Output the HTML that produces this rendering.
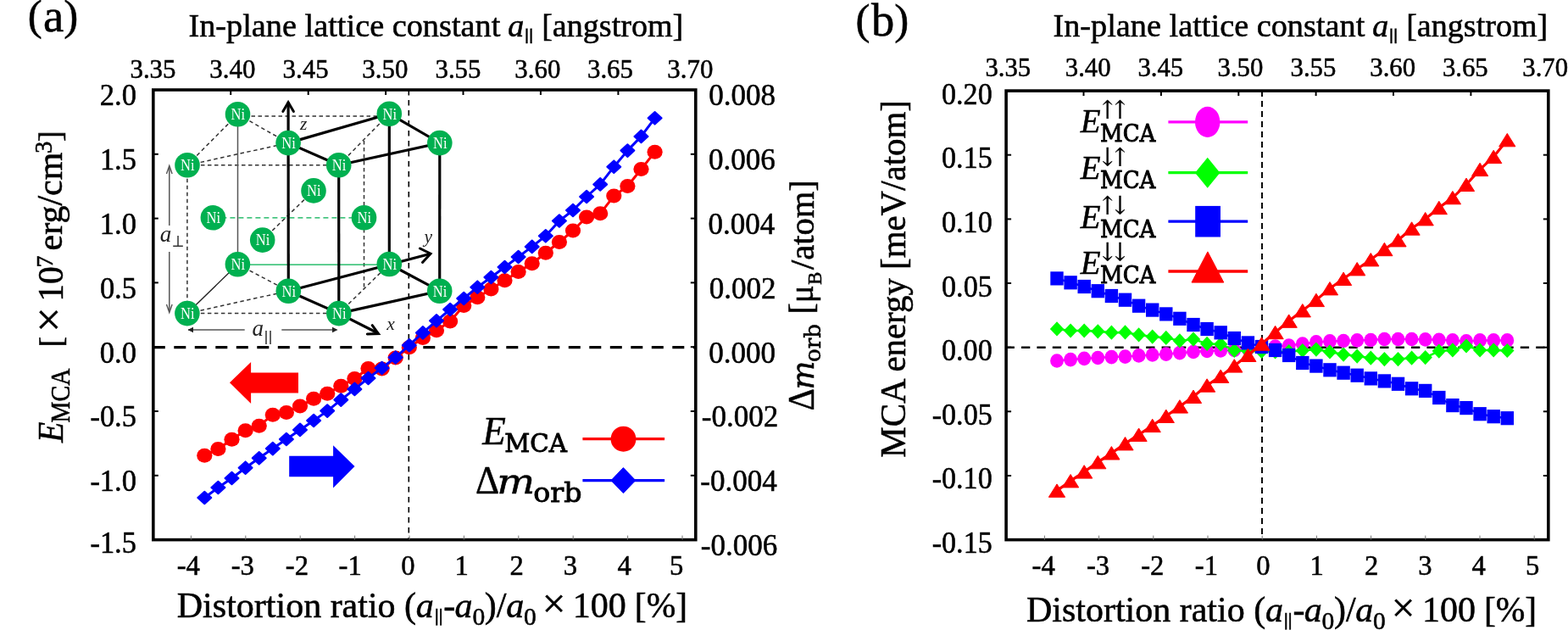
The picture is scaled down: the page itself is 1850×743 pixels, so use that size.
<!DOCTYPE html>
<html><head><meta charset="utf-8"><style>html,body{margin:0;padding:0;background:#fff;overflow:hidden}svg{display:block;}</style></head>
<body>
<svg width="1850" height="743" viewBox="0 0 1850 743" font-family="Liberation Serif, serif">
<rect width="1850" height="743" fill="#fff"/>
<line x1="180.8" y1="409.6" x2="820.8" y2="409.6" stroke="#000" stroke-width="3.4" stroke-dasharray="14 10.5"/>
<line x1="482.3" y1="106.0" x2="482.3" y2="636.6" stroke="#000" stroke-width="1.6" stroke-dasharray="6.5 5.5"/>
<line x1="280.5" y1="137" x2="459.3" y2="137" stroke="#333" stroke-width="1.5" stroke-dasharray="4.5 3.5"/>
<line x1="280.5" y1="134.8" x2="221.0" y2="194.8" stroke="#333" stroke-width="1.5" stroke-dasharray="4.5 3.5"/>
<line x1="280.5" y1="134.8" x2="340.1" y2="168.6" stroke="#333" stroke-width="1.5" stroke-dasharray="4.5 3.5"/>
<line x1="221.0" y1="194.8" x2="340.1" y2="168.6" stroke="#333" stroke-width="1.5" stroke-dasharray="4.5 3.5"/>
<line x1="221.0" y1="194.8" x2="399.7" y2="194.8" stroke="#333" stroke-width="1.5" stroke-dasharray="4.5 3.5"/>
<line x1="399.7" y1="194.8" x2="459.3" y2="134.2" stroke="#333" stroke-width="1.5" stroke-dasharray="4.5 3.5"/>
<line x1="220.9" y1="369.6" x2="399.8" y2="369.6" stroke="#333" stroke-width="1.5" stroke-dasharray="4.5 3.5"/>
<line x1="220.9" y1="369.6" x2="340.3" y2="343.2" stroke="#333" stroke-width="1.5" stroke-dasharray="4.5 3.5"/>
<line x1="280.4" y1="311.7" x2="340.3" y2="343.2" stroke="#333" stroke-width="1.5" stroke-dasharray="4.5 3.5"/>
<line x1="399.8" y1="369.6" x2="459.3" y2="311.5" stroke="#333" stroke-width="1.5" stroke-dasharray="4.5 3.5"/>
<line x1="309.7" y1="283.1" x2="370.0" y2="224.9" stroke="#333" stroke-width="1.5" stroke-dasharray="4.5 3.5"/>
<line x1="220.9" y1="194.8" x2="220.9" y2="369.6" stroke="#333" stroke-width="1.5" stroke-dasharray="4.5 3.5"/>
<line x1="429.5" y1="166" x2="429.5" y2="342" stroke="#333" stroke-width="1.5" stroke-dasharray="4.5 3.5"/>
<line x1="280.5" y1="134.7" x2="280.5" y2="311.7" stroke="#555" stroke-width="1.5"/>
<line x1="220.9" y1="369.6" x2="280.4" y2="311.7" stroke="#222" stroke-width="1.4"/>
<line x1="251.4" y1="256.8" x2="429.5" y2="256.8" stroke="#00b050" stroke-width="1.3" stroke-dasharray="6 4"/>
<line x1="280.4" y1="312.2" x2="459.3" y2="312.2" stroke="#00b050" stroke-width="1.3"/>
<line x1="340.1" y1="168.6" x2="459.3" y2="134.2" stroke="#000" stroke-width="3.2"/>
<line x1="459.3" y1="134.2" x2="518.8" y2="168.6" stroke="#000" stroke-width="3.2"/>
<line x1="518.8" y1="168.6" x2="399.7" y2="194.8" stroke="#000" stroke-width="3.2"/>
<line x1="399.7" y1="194.8" x2="340.1" y2="168.6" stroke="#000" stroke-width="3.2"/>
<line x1="340.3" y1="343.2" x2="399.8" y2="369.6" stroke="#000" stroke-width="3.2"/>
<line x1="399.8" y1="369.6" x2="518.7" y2="343.2" stroke="#000" stroke-width="3.2"/>
<line x1="518.7" y1="343.2" x2="459.3" y2="311.5" stroke="#000" stroke-width="3.2"/>
<line x1="340.1" y1="168.6" x2="340.3" y2="343.2" stroke="#000" stroke-width="3.2"/>
<line x1="399.7" y1="194.8" x2="399.8" y2="369.6" stroke="#000" stroke-width="3.2"/>
<line x1="459.3" y1="134.2" x2="459.3" y2="311.5" stroke="#000" stroke-width="3.2"/>
<line x1="518.8" y1="168.6" x2="518.7" y2="343.2" stroke="#000" stroke-width="3.2"/>
<line x1="340.1" y1="168.6" x2="340.1" y2="120.5" stroke="#000" stroke-width="3.2"/>
<path d="M333.8,131.5 L340.1,120.8 L346.4,131.5" fill="none" stroke="#000" stroke-width="3" stroke-linecap="round"/>
<line x1="340.3" y1="343.2" x2="507" y2="299.5" stroke="#000" stroke-width="3.2"/>
<path d="M495.5,293 L508,299.2 L498.5,309.5" fill="none" stroke="#000" stroke-width="3" stroke-linecap="round"/>
<line x1="399.8" y1="369.6" x2="445" y2="392.5" stroke="#000" stroke-width="3.2"/>
<path d="M433.3,394 L446.5,393.6 L439.2,383.6" fill="none" stroke="#000" stroke-width="3" stroke-linecap="round"/>
<line x1="199.8" y1="198" x2="199.8" y2="366" stroke="#555" stroke-width="1.5"/>
<path d="M196.5,205 L199.8,195.5 L203.1,205" fill="none" stroke="#555" stroke-width="1.4"/>
<path d="M196.5,359 L199.8,368.5 L203.1,359" fill="none" stroke="#555" stroke-width="1.4"/>
<rect x="188" y="266" width="28" height="31" fill="#fff"/>
<line x1="222" y1="389" x2="396" y2="389" stroke="#555" stroke-width="1.7"/>
<path d="M221.5,389 L228,385.8 L228,392.2 Z" fill="#222"/>
<path d="M398.6,389 L392,385.8 L392,392.2 Z" fill="#222"/>
<rect x="288.7" y="378" width="43.6" height="22" fill="#fff"/>
<circle cx="280.5" cy="134.8" r="14.8" fill="#00b050"/>
<text transform="translate(280.9,141.1) scale(0.9,1)" font-size="18.4" fill="#fff" text-anchor="middle">Ni</text>
<circle cx="459.3" cy="134.2" r="14.8" fill="#00b050"/>
<text transform="translate(459.7,140.5) scale(0.9,1)" font-size="18.4" fill="#fff" text-anchor="middle">Ni</text>
<circle cx="221.0" cy="194.8" r="14.8" fill="#00b050"/>
<text transform="translate(221.4,201.1) scale(0.9,1)" font-size="18.4" fill="#fff" text-anchor="middle">Ni</text>
<circle cx="399.7" cy="194.8" r="14.8" fill="#00b050"/>
<text transform="translate(400.1,201.1) scale(0.9,1)" font-size="18.4" fill="#fff" text-anchor="middle">Ni</text>
<circle cx="280.4" cy="311.7" r="14.8" fill="#00b050"/>
<text transform="translate(280.8,318.0) scale(0.9,1)" font-size="18.4" fill="#fff" text-anchor="middle">Ni</text>
<circle cx="459.3" cy="311.5" r="14.8" fill="#00b050"/>
<text transform="translate(459.7,317.8) scale(0.9,1)" font-size="18.4" fill="#fff" text-anchor="middle">Ni</text>
<circle cx="220.9" cy="369.6" r="14.8" fill="#00b050"/>
<text transform="translate(221.3,375.9) scale(0.9,1)" font-size="18.4" fill="#fff" text-anchor="middle">Ni</text>
<circle cx="399.8" cy="369.6" r="14.8" fill="#00b050"/>
<text transform="translate(400.2,375.9) scale(0.9,1)" font-size="18.4" fill="#fff" text-anchor="middle">Ni</text>
<circle cx="340.1" cy="168.6" r="14.8" fill="#00b050"/>
<text transform="translate(340.5,174.9) scale(0.9,1)" font-size="18.4" fill="#fff" text-anchor="middle">Ni</text>
<circle cx="518.8" cy="168.6" r="14.8" fill="#00b050"/>
<text transform="translate(519.2,174.9) scale(0.9,1)" font-size="18.4" fill="#fff" text-anchor="middle">Ni</text>
<circle cx="340.3" cy="343.2" r="14.8" fill="#00b050"/>
<text transform="translate(340.7,349.5) scale(0.9,1)" font-size="18.4" fill="#fff" text-anchor="middle">Ni</text>
<circle cx="518.7" cy="343.2" r="14.8" fill="#00b050"/>
<text transform="translate(519.1,349.5) scale(0.9,1)" font-size="18.4" fill="#fff" text-anchor="middle">Ni</text>
<circle cx="251.4" cy="256.8" r="14.8" fill="#00b050"/>
<text transform="translate(251.8,263.1) scale(0.9,1)" font-size="18.4" fill="#fff" text-anchor="middle">Ni</text>
<circle cx="429.5" cy="256.8" r="14.8" fill="#00b050"/>
<text transform="translate(429.9,263.1) scale(0.9,1)" font-size="18.4" fill="#fff" text-anchor="middle">Ni</text>
<circle cx="309.7" cy="283.1" r="14.8" fill="#00b050"/>
<text transform="translate(310.1,289.4) scale(0.9,1)" font-size="18.4" fill="#fff" text-anchor="middle">Ni</text>
<circle cx="370.0" cy="224.9" r="14.8" fill="#00b050"/>
<text transform="translate(370.4,231.2) scale(0.9,1)" font-size="18.4" fill="#fff" text-anchor="middle">Ni</text>
<text x="354" y="153" font-size="21.5" font-style="italic" fill="#222">z</text>
<text x="500.5" y="285.5" font-size="21.5" font-style="italic" fill="#222">y</text>
<text x="456.2" y="388.6" font-size="21.5" font-style="italic" fill="#222">x</text>
<text x="188.8" y="285" font-size="27" font-style="italic" fill="#222">a</text>
<text x="202.7" y="290.7" font-size="18.5" fill="#333" font-family="DejaVu Math TeX Gyre, serif">⊥</text>
<text x="297.6" y="395.8" font-size="27" font-style="italic" fill="#222">a</text>
<text transform="translate(310.6,403.2) scale(1.5,1)" font-size="19" fill="#555" font-family="DejaVu Math TeX Gyre, serif">∥</text>
<path d="M271,451.3 L296.1,426.9 L296.1,439.4 L352,439.4 L352,463.5 L296.1,463.5 L296.1,476 Z" fill="#f00"/>
<path d="M341.2,537.8 L393.1,537.8 L393.1,525.2 L418.5,549.9 L393.1,575.5 L393.1,562.3 L341.2,562.3 Z" fill="#00f"/>
<polyline points="241.3,537.2 257.4,529.4 273.5,518.3 289.6,507.8 305.7,502.2 321.8,489.2 337.9,486.4 354.0,479.0 370.1,470.3 386.2,464.2 402.3,455.2 418.4,446.5 434.5,434.5 450.6,435.0 466.7,422.1 482.8,409.8 498.9,398.5 515.0,389.7 531.1,379.0 547.2,360.4 563.3,350.7 579.4,341.0 595.5,330.8 611.6,320.5 627.7,310.8 643.8,298.2 659.9,285.5 676.0,272.0 692.1,256.0 708.2,251.8 724.3,231.1 740.4,219.5 756.5,199.5 772.6,179.3" fill="none" stroke="#f00" stroke-width="3" stroke-linejoin="round"/>
<ellipse cx="241.3" cy="537.2" rx="9.1" ry="8.5" fill="#f00"/>
<ellipse cx="257.4" cy="529.4" rx="9.1" ry="8.5" fill="#f00"/>
<ellipse cx="273.5" cy="518.3" rx="9.1" ry="8.5" fill="#f00"/>
<ellipse cx="289.6" cy="507.8" rx="9.1" ry="8.5" fill="#f00"/>
<ellipse cx="305.7" cy="502.2" rx="9.1" ry="8.5" fill="#f00"/>
<ellipse cx="321.8" cy="489.2" rx="9.1" ry="8.5" fill="#f00"/>
<ellipse cx="337.9" cy="486.4" rx="9.1" ry="8.5" fill="#f00"/>
<ellipse cx="354.0" cy="479.0" rx="9.1" ry="8.5" fill="#f00"/>
<ellipse cx="370.1" cy="470.3" rx="9.1" ry="8.5" fill="#f00"/>
<ellipse cx="386.2" cy="464.2" rx="9.1" ry="8.5" fill="#f00"/>
<ellipse cx="402.3" cy="455.2" rx="9.1" ry="8.5" fill="#f00"/>
<ellipse cx="418.4" cy="446.5" rx="9.1" ry="8.5" fill="#f00"/>
<ellipse cx="434.5" cy="434.5" rx="9.1" ry="8.5" fill="#f00"/>
<ellipse cx="450.6" cy="435.0" rx="9.1" ry="8.5" fill="#f00"/>
<ellipse cx="466.7" cy="422.1" rx="9.1" ry="8.5" fill="#f00"/>
<ellipse cx="482.8" cy="409.8" rx="9.1" ry="8.5" fill="#f00"/>
<ellipse cx="498.9" cy="398.5" rx="9.1" ry="8.5" fill="#f00"/>
<ellipse cx="515.0" cy="389.7" rx="9.1" ry="8.5" fill="#f00"/>
<ellipse cx="531.1" cy="379.0" rx="9.1" ry="8.5" fill="#f00"/>
<ellipse cx="547.2" cy="360.4" rx="9.1" ry="8.5" fill="#f00"/>
<ellipse cx="563.3" cy="350.7" rx="9.1" ry="8.5" fill="#f00"/>
<ellipse cx="579.4" cy="341.0" rx="9.1" ry="8.5" fill="#f00"/>
<ellipse cx="595.5" cy="330.8" rx="9.1" ry="8.5" fill="#f00"/>
<ellipse cx="611.6" cy="320.5" rx="9.1" ry="8.5" fill="#f00"/>
<ellipse cx="627.7" cy="310.8" rx="9.1" ry="8.5" fill="#f00"/>
<ellipse cx="643.8" cy="298.2" rx="9.1" ry="8.5" fill="#f00"/>
<ellipse cx="659.9" cy="285.5" rx="9.1" ry="8.5" fill="#f00"/>
<ellipse cx="676.0" cy="272.0" rx="9.1" ry="8.5" fill="#f00"/>
<ellipse cx="692.1" cy="256.0" rx="9.1" ry="8.5" fill="#f00"/>
<ellipse cx="708.2" cy="251.8" rx="9.1" ry="8.5" fill="#f00"/>
<ellipse cx="724.3" cy="231.1" rx="9.1" ry="8.5" fill="#f00"/>
<ellipse cx="740.4" cy="219.5" rx="9.1" ry="8.5" fill="#f00"/>
<ellipse cx="756.5" cy="199.5" rx="9.1" ry="8.5" fill="#f00"/>
<ellipse cx="772.6" cy="179.3" rx="9.1" ry="8.5" fill="#f00"/>
<polyline points="241.3,587.0 257.4,575.0 273.5,564.0 289.6,551.7 305.7,540.3 321.8,529.1 337.9,518.0 354.0,506.9 370.1,496.0 386.2,484.6 402.3,471.6 418.4,458.9 434.5,446.0 450.6,434.0 466.7,421.5 482.8,407.2 498.9,392.4 515.0,378.3 531.1,365.0 547.2,352.0 563.3,338.7 579.4,327.0 595.5,315.0 611.6,303.0 627.7,290.9 643.8,278.3 659.9,260.5 676.0,248.0 692.1,232.0 708.2,217.4 724.3,196.7 740.4,177.6 756.5,160.9 772.6,139.3" fill="none" stroke="#00f" stroke-width="3" stroke-linejoin="round"/>
<path d="M233.3,587.0L241.3,579.7L249.3,587.0L241.3,594.3Z" fill="#00f" stroke="#00f" stroke-width="2" stroke-linejoin="round"/>
<path d="M249.4,575.0L257.4,567.7L265.4,575.0L257.4,582.3Z" fill="#00f" stroke="#00f" stroke-width="2" stroke-linejoin="round"/>
<path d="M265.5,564.0L273.5,556.7L281.5,564.0L273.5,571.3Z" fill="#00f" stroke="#00f" stroke-width="2" stroke-linejoin="round"/>
<path d="M281.6,551.7L289.6,544.4L297.6,551.7L289.6,559.0Z" fill="#00f" stroke="#00f" stroke-width="2" stroke-linejoin="round"/>
<path d="M297.7,540.3L305.7,533.0L313.7,540.3L305.7,547.6Z" fill="#00f" stroke="#00f" stroke-width="2" stroke-linejoin="round"/>
<path d="M313.8,529.1L321.8,521.8L329.8,529.1L321.8,536.4Z" fill="#00f" stroke="#00f" stroke-width="2" stroke-linejoin="round"/>
<path d="M329.9,518.0L337.9,510.7L345.9,518.0L337.9,525.3Z" fill="#00f" stroke="#00f" stroke-width="2" stroke-linejoin="round"/>
<path d="M346.0,506.9L354.0,499.6L362.0,506.9L354.0,514.2Z" fill="#00f" stroke="#00f" stroke-width="2" stroke-linejoin="round"/>
<path d="M362.1,496.0L370.1,488.7L378.1,496.0L370.1,503.3Z" fill="#00f" stroke="#00f" stroke-width="2" stroke-linejoin="round"/>
<path d="M378.2,484.6L386.2,477.3L394.2,484.6L386.2,491.9Z" fill="#00f" stroke="#00f" stroke-width="2" stroke-linejoin="round"/>
<path d="M394.3,471.6L402.3,464.3L410.3,471.6L402.3,478.9Z" fill="#00f" stroke="#00f" stroke-width="2" stroke-linejoin="round"/>
<path d="M410.4,458.9L418.4,451.6L426.4,458.9L418.4,466.2Z" fill="#00f" stroke="#00f" stroke-width="2" stroke-linejoin="round"/>
<path d="M426.5,446.0L434.5,438.7L442.5,446.0L434.5,453.3Z" fill="#00f" stroke="#00f" stroke-width="2" stroke-linejoin="round"/>
<path d="M442.6,434.0L450.6,426.7L458.6,434.0L450.6,441.3Z" fill="#00f" stroke="#00f" stroke-width="2" stroke-linejoin="round"/>
<path d="M458.7,421.5L466.7,414.2L474.7,421.5L466.7,428.8Z" fill="#00f" stroke="#00f" stroke-width="2" stroke-linejoin="round"/>
<path d="M474.8,407.2L482.8,399.9L490.8,407.2L482.8,414.5Z" fill="#00f" stroke="#00f" stroke-width="2" stroke-linejoin="round"/>
<path d="M490.9,392.4L498.9,385.1L506.9,392.4L498.9,399.7Z" fill="#00f" stroke="#00f" stroke-width="2" stroke-linejoin="round"/>
<path d="M507.0,378.3L515.0,371.0L523.0,378.3L515.0,385.6Z" fill="#00f" stroke="#00f" stroke-width="2" stroke-linejoin="round"/>
<path d="M523.1,365.0L531.1,357.7L539.1,365.0L531.1,372.3Z" fill="#00f" stroke="#00f" stroke-width="2" stroke-linejoin="round"/>
<path d="M539.2,352.0L547.2,344.7L555.2,352.0L547.2,359.3Z" fill="#00f" stroke="#00f" stroke-width="2" stroke-linejoin="round"/>
<path d="M555.3,338.7L563.3,331.4L571.3,338.7L563.3,346.0Z" fill="#00f" stroke="#00f" stroke-width="2" stroke-linejoin="round"/>
<path d="M571.4,327.0L579.4,319.7L587.4,327.0L579.4,334.3Z" fill="#00f" stroke="#00f" stroke-width="2" stroke-linejoin="round"/>
<path d="M587.5,315.0L595.5,307.7L603.5,315.0L595.5,322.3Z" fill="#00f" stroke="#00f" stroke-width="2" stroke-linejoin="round"/>
<path d="M603.6,303.0L611.6,295.7L619.6,303.0L611.6,310.3Z" fill="#00f" stroke="#00f" stroke-width="2" stroke-linejoin="round"/>
<path d="M619.7,290.9L627.7,283.6L635.7,290.9L627.7,298.2Z" fill="#00f" stroke="#00f" stroke-width="2" stroke-linejoin="round"/>
<path d="M635.8,278.3L643.8,271.0L651.8,278.3L643.8,285.6Z" fill="#00f" stroke="#00f" stroke-width="2" stroke-linejoin="round"/>
<path d="M651.9,260.5L659.9,253.2L667.9,260.5L659.9,267.8Z" fill="#00f" stroke="#00f" stroke-width="2" stroke-linejoin="round"/>
<path d="M668.0,248.0L676.0,240.7L684.0,248.0L676.0,255.3Z" fill="#00f" stroke="#00f" stroke-width="2" stroke-linejoin="round"/>
<path d="M684.1,232.0L692.1,224.7L700.1,232.0L692.1,239.3Z" fill="#00f" stroke="#00f" stroke-width="2" stroke-linejoin="round"/>
<path d="M700.2,217.4L708.2,210.1L716.2,217.4L708.2,224.7Z" fill="#00f" stroke="#00f" stroke-width="2" stroke-linejoin="round"/>
<path d="M716.3,196.7L724.3,189.4L732.3,196.7L724.3,204.0Z" fill="#00f" stroke="#00f" stroke-width="2" stroke-linejoin="round"/>
<path d="M732.4,177.6L740.4,170.3L748.4,177.6L740.4,184.9Z" fill="#00f" stroke="#00f" stroke-width="2" stroke-linejoin="round"/>
<path d="M748.5,160.9L756.5,153.6L764.5,160.9L756.5,168.2Z" fill="#00f" stroke="#00f" stroke-width="2" stroke-linejoin="round"/>
<path d="M764.6,139.3L772.6,132.0L780.6,139.3L772.6,146.6Z" fill="#00f" stroke="#00f" stroke-width="2" stroke-linejoin="round"/>
<line x1="687.4" y1="517.6" x2="784.1" y2="517.6" stroke="#f00" stroke-width="3.2"/>
<ellipse cx="735.5" cy="517.7" rx="14.9" ry="15.0" fill="#f00"/>
<line x1="687.4" y1="566.6" x2="784.1" y2="566.6" stroke="#00f" stroke-width="3.2"/>
<path d="M721.0,566.6L735.4,551.6L749.8,566.6L735.4,581.6Z" fill="#00f" stroke="#00f" stroke-width="1" stroke-linejoin="round"/>
<text transform="translate(569.13,523.70) scale(0.9700,1)" font-size="46.5" font-family="Liberation Serif, serif" font-style="italic" fill="#000" stroke="#000" stroke-width="0.55">E</text>
<text transform="translate(595.34,533.40)" font-size="29.3" font-family="DejaVu Serif, serif" fill="#000" stroke="#000" stroke-width="0.9">MCA</text>
<text transform="translate(560.94,582.40) scale(0.9500,1)" font-size="46" font-family="Liberation Serif, serif" fill="#000" stroke="#000" stroke-width="0.55">Δ</text>
<text transform="translate(586.29,582.40) scale(1.1700,1)" font-size="40.5" font-family="DejaVu Serif, serif" font-style="italic" fill="#000" stroke="#000" stroke-width="0.55">m</text>
<text transform="translate(629.24,592.00) scale(1.0400,1)" font-size="32" font-family="DejaVu Serif, serif" fill="#000" stroke="#000" stroke-width="0.9">orb</text>
<rect x="180.8" y="106.0" width="640.0" height="530.6" fill="none" stroke="#000" stroke-width="3.6"/>
<text transform="translate(153.45,91.90) scale(0.9500,1)" font-size="32.5" font-family="Liberation Serif, serif" fill="#000" stroke="#000" stroke-width="0.55">3.35</text>
<line x1="272.2" y1="106.0" x2="272.2" y2="112.0" stroke="#000" stroke-width="2"/>
<text transform="translate(247.33,91.90) scale(0.9500,1)" font-size="32.5" font-family="Liberation Serif, serif" fill="#000" stroke="#000" stroke-width="0.55">3.40</text>
<line x1="363.7" y1="106.0" x2="363.7" y2="112.0" stroke="#000" stroke-width="2"/>
<text transform="translate(333.55,91.90) scale(0.9500,1)" font-size="32.5" font-family="Liberation Serif, serif" fill="#000" stroke="#000" stroke-width="0.55">3.45</text>
<line x1="455.1" y1="106.0" x2="455.1" y2="112.0" stroke="#000" stroke-width="2"/>
<text transform="translate(427.33,91.90) scale(0.9500,1)" font-size="32.5" font-family="Liberation Serif, serif" fill="#000" stroke="#000" stroke-width="0.55">3.50</text>
<line x1="546.5" y1="106.0" x2="546.5" y2="112.0" stroke="#000" stroke-width="2"/>
<text transform="translate(513.45,91.90) scale(0.9500,1)" font-size="32.5" font-family="Liberation Serif, serif" fill="#000" stroke="#000" stroke-width="0.55">3.55</text>
<line x1="637.9" y1="106.0" x2="637.9" y2="112.0" stroke="#000" stroke-width="2"/>
<text transform="translate(607.33,91.90) scale(0.9500,1)" font-size="32.5" font-family="Liberation Serif, serif" fill="#000" stroke="#000" stroke-width="0.55">3.60</text>
<line x1="729.4" y1="106.0" x2="729.4" y2="112.0" stroke="#000" stroke-width="2"/>
<text transform="translate(692.95,91.90) scale(0.9500,1)" font-size="32.5" font-family="Liberation Serif, serif" fill="#000" stroke="#000" stroke-width="0.55">3.65</text>
<text transform="translate(787.33,91.90) scale(0.9500,1)" font-size="32.5" font-family="Liberation Serif, serif" fill="#000" stroke="#000" stroke-width="0.55">3.70</text>
<text transform="translate(117.87,124.30) scale(0.9700,1)" font-size="35.5" font-family="Liberation Serif, serif" fill="#000" stroke="#000" stroke-width="0.55">2.0</text>
<text transform="translate(836.19,124.30) scale(0.9600,1)" font-size="36.5" font-family="Liberation Serif, serif" fill="#000" stroke="#000" stroke-width="0.55">0.008</text>
<line x1="180.8" y1="181.8" x2="186.8" y2="181.8" stroke="#000" stroke-width="2"/>
<line x1="814.8" y1="181.8" x2="820.8" y2="181.8" stroke="#000" stroke-width="2"/>
<text transform="translate(117.90,200.10) scale(0.9700,1)" font-size="35.5" font-family="Liberation Serif, serif" fill="#000" stroke="#000" stroke-width="0.55">1.5</text>
<text transform="translate(835.90,200.10) scale(0.9600,1)" font-size="36.5" font-family="Liberation Serif, serif" fill="#000" stroke="#000" stroke-width="0.55">0.006</text>
<line x1="180.8" y1="257.6" x2="186.8" y2="257.6" stroke="#000" stroke-width="2"/>
<line x1="814.8" y1="257.6" x2="820.8" y2="257.6" stroke="#000" stroke-width="2"/>
<text transform="translate(117.87,275.90) scale(0.9700,1)" font-size="35.5" font-family="Liberation Serif, serif" fill="#000" stroke="#000" stroke-width="0.55">1.0</text>
<text transform="translate(835.41,275.90) scale(0.9600,1)" font-size="36.5" font-family="Liberation Serif, serif" fill="#000" stroke="#000" stroke-width="0.55">0.004</text>
<line x1="180.8" y1="333.4" x2="186.8" y2="333.4" stroke="#000" stroke-width="2"/>
<line x1="814.8" y1="333.4" x2="820.8" y2="333.4" stroke="#000" stroke-width="2"/>
<text transform="translate(117.90,351.70) scale(0.9700,1)" font-size="35.5" font-family="Liberation Serif, serif" fill="#000" stroke="#000" stroke-width="0.55">0.5</text>
<text transform="translate(836.79,351.70) scale(0.9600,1)" font-size="36.5" font-family="Liberation Serif, serif" fill="#000" stroke="#000" stroke-width="0.55">0.002</text>
<line x1="180.8" y1="409.2" x2="186.8" y2="409.2" stroke="#000" stroke-width="2"/>
<line x1="814.8" y1="409.2" x2="820.8" y2="409.2" stroke="#000" stroke-width="2"/>
<text transform="translate(117.87,427.50) scale(0.9700,1)" font-size="35.5" font-family="Liberation Serif, serif" fill="#000" stroke="#000" stroke-width="0.55">0.0</text>
<text transform="translate(836.19,427.50) scale(0.9600,1)" font-size="36.5" font-family="Liberation Serif, serif" fill="#000" stroke="#000" stroke-width="0.55">0.000</text>
<line x1="180.8" y1="485.0" x2="186.8" y2="485.0" stroke="#000" stroke-width="2"/>
<line x1="814.8" y1="485.0" x2="820.8" y2="485.0" stroke="#000" stroke-width="2"/>
<text transform="translate(106.43,503.30) scale(0.9700,1)" font-size="35.5" font-family="Liberation Serif, serif" fill="#000" stroke="#000" stroke-width="0.55">-0.5</text>
<text transform="translate(827.72,503.30) scale(0.9600,1)" font-size="36.5" font-family="Liberation Serif, serif" fill="#000" stroke="#000" stroke-width="0.55">-0.002</text>
<line x1="180.8" y1="560.8" x2="186.8" y2="560.8" stroke="#000" stroke-width="2"/>
<line x1="814.8" y1="560.8" x2="820.8" y2="560.8" stroke="#000" stroke-width="2"/>
<text transform="translate(106.40,579.10) scale(0.9700,1)" font-size="35.5" font-family="Liberation Serif, serif" fill="#000" stroke="#000" stroke-width="0.55">-1.0</text>
<text transform="translate(826.34,579.10) scale(0.9600,1)" font-size="36.5" font-family="Liberation Serif, serif" fill="#000" stroke="#000" stroke-width="0.55">-0.004</text>
<text transform="translate(106.43,652.20) scale(0.9700,1)" font-size="35.5" font-family="Liberation Serif, serif" fill="#000" stroke="#000" stroke-width="0.55">-1.5</text>
<text transform="translate(826.84,654.90) scale(0.9600,1)" font-size="36.5" font-family="Liberation Serif, serif" fill="#000" stroke="#000" stroke-width="0.55">-0.006</text>
<line x1="225.4" y1="631.6" x2="225.4" y2="636.6" stroke="#777" stroke-width="1"/>
<text transform="translate(208.65,678.40) scale(0.9600,1)" font-size="34" font-family="Liberation Serif, serif" fill="#000" stroke="#000" stroke-width="0.55">-4</text>
<line x1="289.8" y1="631.6" x2="289.8" y2="636.6" stroke="#777" stroke-width="1"/>
<text transform="translate(272.74,678.40) scale(0.9600,1)" font-size="34" font-family="Liberation Serif, serif" fill="#000" stroke="#000" stroke-width="0.55">-3</text>
<line x1="354.2" y1="631.6" x2="354.2" y2="636.6" stroke="#777" stroke-width="1"/>
<text transform="translate(336.80,678.40) scale(0.9600,1)" font-size="34" font-family="Liberation Serif, serif" fill="#000" stroke="#000" stroke-width="0.55">-2</text>
<line x1="418.6" y1="631.6" x2="418.6" y2="636.6" stroke="#777" stroke-width="1"/>
<text transform="translate(399.58,678.40) scale(0.9600,1)" font-size="34" font-family="Liberation Serif, serif" fill="#000" stroke="#000" stroke-width="0.55">-1</text>
<line x1="483.0" y1="631.6" x2="483.0" y2="636.6" stroke="#777" stroke-width="1"/>
<text transform="translate(473.14,678.40) scale(0.9600,1)" font-size="34" font-family="Liberation Serif, serif" fill="#000" stroke="#000" stroke-width="0.55">0</text>
<line x1="547.4" y1="631.6" x2="547.4" y2="636.6" stroke="#777" stroke-width="1"/>
<text transform="translate(536.59,678.40) scale(0.9600,1)" font-size="34" font-family="Liberation Serif, serif" fill="#000" stroke="#000" stroke-width="0.55">1</text>
<line x1="611.8" y1="631.6" x2="611.8" y2="636.6" stroke="#777" stroke-width="1"/>
<text transform="translate(601.42,678.40) scale(0.9600,1)" font-size="34" font-family="Liberation Serif, serif" fill="#000" stroke="#000" stroke-width="0.55">2</text>
<line x1="676.2" y1="631.6" x2="676.2" y2="636.6" stroke="#777" stroke-width="1"/>
<text transform="translate(664.70,678.40) scale(0.9600,1)" font-size="34" font-family="Liberation Serif, serif" fill="#000" stroke="#000" stroke-width="0.55">3</text>
<line x1="740.6" y1="631.6" x2="740.6" y2="636.6" stroke="#777" stroke-width="1"/>
<text transform="translate(728.38,678.40) scale(0.9600,1)" font-size="34" font-family="Liberation Serif, serif" fill="#000" stroke="#000" stroke-width="0.55">4</text>
<line x1="805.0" y1="631.6" x2="805.0" y2="636.6" stroke="#777" stroke-width="1"/>
<text transform="translate(790.03,678.40) scale(0.9600,1)" font-size="34" font-family="Liberation Serif, serif" fill="#000" stroke="#000" stroke-width="0.55">5</text>
<text transform="translate(222.42,43.00)" font-size="38.3" font-family="Liberation Serif, serif" fill="#000" stroke="#000" stroke-width="0.55">In-plane lattice constant</text>
<text transform="translate(599.27,43.00)" font-size="38" font-family="Liberation Serif, serif" font-style="italic" fill="#000" stroke="#000" stroke-width="0.55">a</text>
<text transform="translate(618.47,48.40) scale(1.3000,1)" font-size="20.5" font-family="DejaVu Math TeX Gyre, serif" fill="#000" stroke="#000" stroke-width="0.3">∥</text>
<text transform="translate(639.17,43.00)" font-size="38.1" font-family="Liberation Serif, serif" fill="#000" stroke="#000" stroke-width="0.55">[angstrom]</text>
<text transform="translate(208.79,727.60)" font-size="42" font-family="Liberation Serif, serif" fill="#000" stroke="#000" stroke-width="0.55">Distortion ratio (</text>
<text transform="translate(490.85,727.60)" font-size="42" font-family="Liberation Serif, serif" font-style="italic" fill="#000" stroke="#000" stroke-width="0.55">a</text>
<text transform="translate(512.27,734.00) scale(1.1500,1)" font-size="23.1" font-family="DejaVu Math TeX Gyre, serif" fill="#000" stroke="#000" stroke-width="0.3">∥</text>
<text transform="translate(523.34,727.60)" font-size="42" font-family="Liberation Serif, serif" fill="#000" stroke="#000" stroke-width="0.55">-</text>
<text transform="translate(536.55,727.60)" font-size="42" font-family="Liberation Serif, serif" font-style="italic" fill="#000" stroke="#000" stroke-width="0.55">a</text>
<text transform="translate(557.38,737.10)" font-size="29.5" font-family="Liberation Serif, serif" fill="#000" stroke="#000" stroke-width="0.55">0</text>
<text transform="translate(571.85,727.60)" font-size="42" font-family="Liberation Serif, serif" fill="#000" stroke="#000" stroke-width="0.55">)/</text>
<text transform="translate(597.15,727.60)" font-size="42" font-family="Liberation Serif, serif" font-style="italic" fill="#000" stroke="#000" stroke-width="0.55">a</text>
<text transform="translate(617.98,737.10)" font-size="29.5" font-family="Liberation Serif, serif" fill="#000" stroke="#000" stroke-width="0.55">0</text>
<text transform="translate(639.72,728.00)" font-size="49" font-family="Liberation Serif, serif" fill="#000" stroke="#000" stroke-width="0.55">×</text>
<text transform="translate(675.81,727.60)" font-size="42" font-family="Liberation Serif, serif" fill="#000" stroke="#000" stroke-width="0.55">100</text>
<text transform="translate(748.82,727.60)" font-size="41.5" font-family="Liberation Serif, serif" fill="#000" stroke="#000" stroke-width="0.55">[%]</text>
<text transform="translate(32.76,35.00)" font-size="51" font-family="Liberation Serif, serif" fill="#000" stroke="#000" stroke-width="0.55">(</text>
<text transform="translate(50.88,37.00)" font-size="54.7" font-family="Liberation Serif, serif" fill="#000" stroke="#000" stroke-width="0.55">a</text>
<text transform="translate(75.16,35.00)" font-size="51" font-family="Liberation Serif, serif" fill="#000" stroke="#000" stroke-width="0.55">)</text>
<text transform="translate(73.80,522.03) rotate(-90) scale(0.9300,1)" font-size="43" font-family="Liberation Serif, serif" font-style="italic" fill="#000" stroke="#000" stroke-width="0.55">E</text>
<text transform="translate(82.20,498.51) rotate(-90) scale(0.9200,1)" font-size="30.5" font-family="Liberation Serif, serif" fill="#000" stroke="#000" stroke-width="0.55">MCA</text>
<text transform="translate(72.70,409.54) rotate(-90)" font-size="38.2" font-family="Liberation Serif, serif" fill="#000" stroke="#000" stroke-width="0.55">[</text>
<text transform="translate(74.8,377) rotate(-90)" font-size="52" text-anchor="middle" stroke="#000" stroke-width="0.55">×</text>
<text transform="translate(73.70,355.76) rotate(-90) scale(0.9800,1)" font-size="42.5" font-family="Liberation Serif, serif" fill="#000" stroke="#000" stroke-width="0.55">10</text>
<text transform="translate(61.50,315.45) rotate(-90)" font-size="28" font-family="Liberation Serif, serif" fill="#000" stroke="#000" stroke-width="0.55">7</text>
<text transform="translate(73.40,295.44) rotate(-90)" font-size="42" font-family="Liberation Serif, serif" fill="#000" stroke="#000" stroke-width="0.55">erg/cm</text>
<text transform="translate(61.20,180.96) rotate(-90)" font-size="28.5" font-family="Liberation Serif, serif" fill="#000" stroke="#000" stroke-width="0.55">3</text>
<text transform="translate(71.80,166.88) rotate(-90)" font-size="38.2" font-family="Liberation Serif, serif" fill="#000" stroke="#000" stroke-width="0.55">]</text>
<text transform="translate(959.80,484.24) rotate(-90) scale(0.9300,1)" font-size="43.5" font-family="Liberation Serif, serif" fill="#000" stroke="#000" stroke-width="0.55">Δ</text>
<text transform="translate(959.80,459.40) rotate(-90) scale(0.9800,1)" font-size="36.5" font-family="DejaVu Serif, serif" font-style="italic" fill="#000" stroke="#000" stroke-width="0.55">m</text>
<text transform="translate(968.40,427.00) rotate(-90)" font-size="26.2" font-family="DejaVu Serif, serif" fill="#000" stroke="#000" stroke-width="0.55">orb</text>
<text transform="translate(959.30,370.19) rotate(-90)" font-size="39" font-family="Liberation Serif, serif" fill="#000" stroke="#000" stroke-width="0.55">[μ</text>
<text transform="translate(969.20,335.75) rotate(-90)" font-size="22.5" font-family="Liberation Serif, serif" fill="#000" stroke="#000" stroke-width="0.55">B</text>
<text transform="translate(959.50,317.90) rotate(-90)" font-size="40.5" font-family="Liberation Serif, serif" fill="#000" stroke="#000" stroke-width="0.55">/atom]</text>
<line x1="1187.1" y1="409.7" x2="1826.8" y2="409.7" stroke="#000" stroke-width="2.6" stroke-dasharray="10.3 8.1" stroke-dashoffset="0.5"/>
<line x1="1489" y1="107.1" x2="1489" y2="636.6" stroke="#000" stroke-width="1.9" stroke-dasharray="7 5"/>
<polyline points="1247.0,425.5 1263.1,424.1 1279.2,422.9 1295.3,422.0 1311.4,421.1 1327.5,420.6 1343.6,419.4 1359.7,418.5 1375.8,417.6 1391.9,416.2 1408.0,415.0 1424.1,414.0 1440.2,413.5 1456.3,413.0 1472.4,411.5 1488.5,410.3 1504.6,408.6 1520.7,407.5 1536.8,405.5 1552.9,403.4 1569.0,402.4 1585.1,402.0 1601.2,401.4 1617.3,401.0 1633.4,400.0 1649.5,400.0 1665.6,400.0 1681.7,400.4 1697.8,400.8 1713.9,401.4 1730.0,402.4 1746.1,401.4 1762.2,401.4 1778.3,401.4" fill="none" stroke="#f0f" stroke-width="2.5" stroke-linejoin="round"/>
<ellipse cx="1247.0" cy="425.5" rx="7.9" ry="8.3" fill="#f0f"/>
<ellipse cx="1263.1" cy="424.1" rx="7.9" ry="8.3" fill="#f0f"/>
<ellipse cx="1279.2" cy="422.9" rx="7.9" ry="8.3" fill="#f0f"/>
<ellipse cx="1295.3" cy="422.0" rx="7.9" ry="8.3" fill="#f0f"/>
<ellipse cx="1311.4" cy="421.1" rx="7.9" ry="8.3" fill="#f0f"/>
<ellipse cx="1327.5" cy="420.6" rx="7.9" ry="8.3" fill="#f0f"/>
<ellipse cx="1343.6" cy="419.4" rx="7.9" ry="8.3" fill="#f0f"/>
<ellipse cx="1359.7" cy="418.5" rx="7.9" ry="8.3" fill="#f0f"/>
<ellipse cx="1375.8" cy="417.6" rx="7.9" ry="8.3" fill="#f0f"/>
<ellipse cx="1391.9" cy="416.2" rx="7.9" ry="8.3" fill="#f0f"/>
<ellipse cx="1408.0" cy="415.0" rx="7.9" ry="8.3" fill="#f0f"/>
<ellipse cx="1424.1" cy="414.0" rx="7.9" ry="8.3" fill="#f0f"/>
<ellipse cx="1440.2" cy="413.5" rx="7.9" ry="8.3" fill="#f0f"/>
<ellipse cx="1456.3" cy="413.0" rx="7.9" ry="8.3" fill="#f0f"/>
<ellipse cx="1472.4" cy="411.5" rx="7.9" ry="8.3" fill="#f0f"/>
<ellipse cx="1488.5" cy="410.3" rx="7.9" ry="8.3" fill="#f0f"/>
<ellipse cx="1504.6" cy="408.6" rx="7.9" ry="8.3" fill="#f0f"/>
<ellipse cx="1520.7" cy="407.5" rx="7.9" ry="8.3" fill="#f0f"/>
<ellipse cx="1536.8" cy="405.5" rx="7.9" ry="8.3" fill="#f0f"/>
<ellipse cx="1552.9" cy="403.4" rx="7.9" ry="8.3" fill="#f0f"/>
<ellipse cx="1569.0" cy="402.4" rx="7.9" ry="8.3" fill="#f0f"/>
<ellipse cx="1585.1" cy="402.0" rx="7.9" ry="8.3" fill="#f0f"/>
<ellipse cx="1601.2" cy="401.4" rx="7.9" ry="8.3" fill="#f0f"/>
<ellipse cx="1617.3" cy="401.0" rx="7.9" ry="8.3" fill="#f0f"/>
<ellipse cx="1633.4" cy="400.0" rx="7.9" ry="8.3" fill="#f0f"/>
<ellipse cx="1649.5" cy="400.0" rx="7.9" ry="8.3" fill="#f0f"/>
<ellipse cx="1665.6" cy="400.0" rx="7.9" ry="8.3" fill="#f0f"/>
<ellipse cx="1681.7" cy="400.4" rx="7.9" ry="8.3" fill="#f0f"/>
<ellipse cx="1697.8" cy="400.8" rx="7.9" ry="8.3" fill="#f0f"/>
<ellipse cx="1713.9" cy="401.4" rx="7.9" ry="8.3" fill="#f0f"/>
<ellipse cx="1730.0" cy="402.4" rx="7.9" ry="8.3" fill="#f0f"/>
<ellipse cx="1746.1" cy="401.4" rx="7.9" ry="8.3" fill="#f0f"/>
<ellipse cx="1762.2" cy="401.4" rx="7.9" ry="8.3" fill="#f0f"/>
<ellipse cx="1778.3" cy="401.4" rx="7.9" ry="8.3" fill="#f0f"/>
<polyline points="1247.0,387.9 1263.1,390.0 1279.2,390.0 1295.3,390.8 1311.4,392.2 1327.5,391.9 1343.6,394.9 1359.7,397.1 1375.8,398.4 1391.9,401.9 1408.0,400.1 1424.1,405.4 1440.2,405.9 1456.3,413.3 1472.4,414.0 1488.5,414.3 1504.6,415.0 1520.7,414.5 1536.8,413.5 1552.9,412.1 1569.0,414.9 1585.1,418.1 1601.2,420.1 1617.3,422.2 1633.4,423.6 1649.5,423.6 1665.6,422.2 1681.7,421.6 1697.8,414.1 1713.9,412.9 1730.0,408.0 1746.1,412.9 1762.2,412.9 1778.3,413.5" fill="none" stroke="#0f0" stroke-width="2.5" stroke-linejoin="round"/>
<path d="M1238.8,387.9L1247.0,379.3L1255.2,387.9L1247.0,396.5Z" fill="#0f0" stroke="#0f0" stroke-width="0" stroke-linejoin="round"/>
<path d="M1254.9,390.0L1263.1,381.4L1271.3,390.0L1263.1,398.6Z" fill="#0f0" stroke="#0f0" stroke-width="0" stroke-linejoin="round"/>
<path d="M1271.0,390.0L1279.2,381.4L1287.4,390.0L1279.2,398.6Z" fill="#0f0" stroke="#0f0" stroke-width="0" stroke-linejoin="round"/>
<path d="M1287.1,390.8L1295.3,382.2L1303.5,390.8L1295.3,399.4Z" fill="#0f0" stroke="#0f0" stroke-width="0" stroke-linejoin="round"/>
<path d="M1303.2,392.2L1311.4,383.6L1319.6,392.2L1311.4,400.8Z" fill="#0f0" stroke="#0f0" stroke-width="0" stroke-linejoin="round"/>
<path d="M1319.3,391.9L1327.5,383.3L1335.7,391.9L1327.5,400.5Z" fill="#0f0" stroke="#0f0" stroke-width="0" stroke-linejoin="round"/>
<path d="M1335.4,394.9L1343.6,386.3L1351.8,394.9L1343.6,403.5Z" fill="#0f0" stroke="#0f0" stroke-width="0" stroke-linejoin="round"/>
<path d="M1351.5,397.1L1359.7,388.5L1367.9,397.1L1359.7,405.7Z" fill="#0f0" stroke="#0f0" stroke-width="0" stroke-linejoin="round"/>
<path d="M1367.6,398.4L1375.8,389.8L1384.0,398.4L1375.8,407.0Z" fill="#0f0" stroke="#0f0" stroke-width="0" stroke-linejoin="round"/>
<path d="M1383.7,401.9L1391.9,393.3L1400.1,401.9L1391.9,410.5Z" fill="#0f0" stroke="#0f0" stroke-width="0" stroke-linejoin="round"/>
<path d="M1399.8,400.1L1408.0,391.5L1416.2,400.1L1408.0,408.7Z" fill="#0f0" stroke="#0f0" stroke-width="0" stroke-linejoin="round"/>
<path d="M1415.9,405.4L1424.1,396.8L1432.3,405.4L1424.1,414.0Z" fill="#0f0" stroke="#0f0" stroke-width="0" stroke-linejoin="round"/>
<path d="M1432.0,405.9L1440.2,397.3L1448.4,405.9L1440.2,414.5Z" fill="#0f0" stroke="#0f0" stroke-width="0" stroke-linejoin="round"/>
<path d="M1448.1,413.3L1456.3,404.7L1464.5,413.3L1456.3,421.9Z" fill="#0f0" stroke="#0f0" stroke-width="0" stroke-linejoin="round"/>
<path d="M1464.2,414.0L1472.4,405.4L1480.6,414.0L1472.4,422.6Z" fill="#0f0" stroke="#0f0" stroke-width="0" stroke-linejoin="round"/>
<path d="M1480.3,414.3L1488.5,405.7L1496.7,414.3L1488.5,422.9Z" fill="#0f0" stroke="#0f0" stroke-width="0" stroke-linejoin="round"/>
<path d="M1496.4,415.0L1504.6,406.4L1512.8,415.0L1504.6,423.6Z" fill="#0f0" stroke="#0f0" stroke-width="0" stroke-linejoin="round"/>
<path d="M1512.5,414.5L1520.7,405.9L1528.9,414.5L1520.7,423.1Z" fill="#0f0" stroke="#0f0" stroke-width="0" stroke-linejoin="round"/>
<path d="M1528.6,413.5L1536.8,404.9L1545.0,413.5L1536.8,422.1Z" fill="#0f0" stroke="#0f0" stroke-width="0" stroke-linejoin="round"/>
<path d="M1544.7,412.1L1552.9,403.5L1561.1,412.1L1552.9,420.7Z" fill="#0f0" stroke="#0f0" stroke-width="0" stroke-linejoin="round"/>
<path d="M1560.8,414.9L1569.0,406.3L1577.2,414.9L1569.0,423.5Z" fill="#0f0" stroke="#0f0" stroke-width="0" stroke-linejoin="round"/>
<path d="M1576.9,418.1L1585.1,409.5L1593.3,418.1L1585.1,426.7Z" fill="#0f0" stroke="#0f0" stroke-width="0" stroke-linejoin="round"/>
<path d="M1593.0,420.1L1601.2,411.5L1609.4,420.1L1601.2,428.7Z" fill="#0f0" stroke="#0f0" stroke-width="0" stroke-linejoin="round"/>
<path d="M1609.1,422.2L1617.3,413.6L1625.5,422.2L1617.3,430.8Z" fill="#0f0" stroke="#0f0" stroke-width="0" stroke-linejoin="round"/>
<path d="M1625.2,423.6L1633.4,415.0L1641.6,423.6L1633.4,432.2Z" fill="#0f0" stroke="#0f0" stroke-width="0" stroke-linejoin="round"/>
<path d="M1641.3,423.6L1649.5,415.0L1657.7,423.6L1649.5,432.2Z" fill="#0f0" stroke="#0f0" stroke-width="0" stroke-linejoin="round"/>
<path d="M1657.4,422.2L1665.6,413.6L1673.8,422.2L1665.6,430.8Z" fill="#0f0" stroke="#0f0" stroke-width="0" stroke-linejoin="round"/>
<path d="M1673.5,421.6L1681.7,413.0L1689.9,421.6L1681.7,430.2Z" fill="#0f0" stroke="#0f0" stroke-width="0" stroke-linejoin="round"/>
<path d="M1689.6,414.1L1697.8,405.5L1706.0,414.1L1697.8,422.7Z" fill="#0f0" stroke="#0f0" stroke-width="0" stroke-linejoin="round"/>
<path d="M1705.7,412.9L1713.9,404.3L1722.1,412.9L1713.9,421.5Z" fill="#0f0" stroke="#0f0" stroke-width="0" stroke-linejoin="round"/>
<path d="M1721.8,408.0L1730.0,399.4L1738.2,408.0L1730.0,416.6Z" fill="#0f0" stroke="#0f0" stroke-width="0" stroke-linejoin="round"/>
<path d="M1737.9,412.9L1746.1,404.3L1754.3,412.9L1746.1,421.5Z" fill="#0f0" stroke="#0f0" stroke-width="0" stroke-linejoin="round"/>
<path d="M1754.0,412.9L1762.2,404.3L1770.4,412.9L1762.2,421.5Z" fill="#0f0" stroke="#0f0" stroke-width="0" stroke-linejoin="round"/>
<path d="M1770.1,413.5L1778.3,404.9L1786.5,413.5L1778.3,422.1Z" fill="#0f0" stroke="#0f0" stroke-width="0" stroke-linejoin="round"/>
<polyline points="1247.0,328.4 1263.1,333.3 1279.2,338.0 1295.3,343.2 1311.4,349.0 1327.5,353.7 1343.6,360.7 1359.7,365.6 1375.8,370.4 1391.9,375.8 1408.0,383.0 1424.1,388.0 1440.2,392.3 1456.3,399.0 1472.4,404.4 1488.5,409.0 1504.6,413.0 1520.7,419.0 1536.8,428.0 1552.9,431.6 1569.0,436.3 1585.1,439.7 1601.2,442.7 1617.3,446.4 1633.4,449.4 1649.5,452.8 1665.6,458.3 1681.7,460.9 1697.8,469.0 1713.9,478.1 1730.0,481.1 1746.1,488.2 1762.2,491.2 1778.3,493.2" fill="none" stroke="#00f" stroke-width="2.5" stroke-linejoin="round"/>
<rect x="1239.3" y="320.3" width="15.4" height="16.2" fill="#00f"/>
<rect x="1255.4" y="325.2" width="15.4" height="16.2" fill="#00f"/>
<rect x="1271.5" y="329.9" width="15.4" height="16.2" fill="#00f"/>
<rect x="1287.6" y="335.1" width="15.4" height="16.2" fill="#00f"/>
<rect x="1303.7" y="340.9" width="15.4" height="16.2" fill="#00f"/>
<rect x="1319.8" y="345.6" width="15.4" height="16.2" fill="#00f"/>
<rect x="1335.9" y="352.6" width="15.4" height="16.2" fill="#00f"/>
<rect x="1352.0" y="357.5" width="15.4" height="16.2" fill="#00f"/>
<rect x="1368.1" y="362.3" width="15.4" height="16.2" fill="#00f"/>
<rect x="1384.2" y="367.7" width="15.4" height="16.2" fill="#00f"/>
<rect x="1400.3" y="374.9" width="15.4" height="16.2" fill="#00f"/>
<rect x="1416.4" y="379.9" width="15.4" height="16.2" fill="#00f"/>
<rect x="1432.5" y="384.2" width="15.4" height="16.2" fill="#00f"/>
<rect x="1448.6" y="390.9" width="15.4" height="16.2" fill="#00f"/>
<rect x="1464.7" y="396.3" width="15.4" height="16.2" fill="#00f"/>
<rect x="1480.8" y="400.9" width="15.4" height="16.2" fill="#00f"/>
<rect x="1496.9" y="404.9" width="15.4" height="16.2" fill="#00f"/>
<rect x="1513.0" y="410.9" width="15.4" height="16.2" fill="#00f"/>
<rect x="1529.1" y="419.9" width="15.4" height="16.2" fill="#00f"/>
<rect x="1545.2" y="423.5" width="15.4" height="16.2" fill="#00f"/>
<rect x="1561.3" y="428.2" width="15.4" height="16.2" fill="#00f"/>
<rect x="1577.4" y="431.6" width="15.4" height="16.2" fill="#00f"/>
<rect x="1593.5" y="434.6" width="15.4" height="16.2" fill="#00f"/>
<rect x="1609.6" y="438.3" width="15.4" height="16.2" fill="#00f"/>
<rect x="1625.7" y="441.3" width="15.4" height="16.2" fill="#00f"/>
<rect x="1641.8" y="444.7" width="15.4" height="16.2" fill="#00f"/>
<rect x="1657.9" y="450.2" width="15.4" height="16.2" fill="#00f"/>
<rect x="1674.0" y="452.8" width="15.4" height="16.2" fill="#00f"/>
<rect x="1690.1" y="460.9" width="15.4" height="16.2" fill="#00f"/>
<rect x="1706.2" y="470.0" width="15.4" height="16.2" fill="#00f"/>
<rect x="1722.3" y="473.0" width="15.4" height="16.2" fill="#00f"/>
<rect x="1738.4" y="480.1" width="15.4" height="16.2" fill="#00f"/>
<rect x="1754.5" y="483.1" width="15.4" height="16.2" fill="#00f"/>
<rect x="1770.6" y="485.1" width="15.4" height="16.2" fill="#00f"/>
<polyline points="1247.0,578.6 1263.1,567.2 1279.2,556.4 1295.3,545.1 1311.4,534.3 1327.5,523.2 1343.6,512.7 1359.7,501.9 1375.8,490.8 1391.9,479.4 1408.0,467.8 1424.1,454.5 1440.2,443.7 1456.3,431.4 1472.4,418.8 1488.5,405.5 1504.6,392.0 1520.7,378.6 1536.8,366.2 1552.9,353.9 1569.0,340.2 1585.1,328.8 1601.2,317.2 1617.3,306.2 1633.4,294.0 1649.5,283.2 1665.6,269.5 1681.7,258.2 1697.8,245.0 1713.9,233.1 1730.0,217.8 1746.1,199.9 1762.2,184.9 1778.3,165.1" fill="none" stroke="#f00" stroke-width="3.2" stroke-linejoin="round"/>
<path d="M1247.0,570.9L1256.6,586.3L1237.4,586.3Z" fill="#f00" stroke="#f00" stroke-width="1" stroke-linejoin="round"/>
<path d="M1263.1,559.5L1272.7,574.9L1253.5,574.9Z" fill="#f00" stroke="#f00" stroke-width="1" stroke-linejoin="round"/>
<path d="M1279.2,548.7L1288.8,564.1L1269.6,564.1Z" fill="#f00" stroke="#f00" stroke-width="1" stroke-linejoin="round"/>
<path d="M1295.3,537.4L1304.9,552.8L1285.7,552.8Z" fill="#f00" stroke="#f00" stroke-width="1" stroke-linejoin="round"/>
<path d="M1311.4,526.6L1321.0,542.0L1301.8,542.0Z" fill="#f00" stroke="#f00" stroke-width="1" stroke-linejoin="round"/>
<path d="M1327.5,515.5L1337.1,530.9L1317.9,530.9Z" fill="#f00" stroke="#f00" stroke-width="1" stroke-linejoin="round"/>
<path d="M1343.6,505.0L1353.2,520.4L1334.0,520.4Z" fill="#f00" stroke="#f00" stroke-width="1" stroke-linejoin="round"/>
<path d="M1359.7,494.2L1369.3,509.6L1350.1,509.6Z" fill="#f00" stroke="#f00" stroke-width="1" stroke-linejoin="round"/>
<path d="M1375.8,483.1L1385.4,498.5L1366.2,498.5Z" fill="#f00" stroke="#f00" stroke-width="1" stroke-linejoin="round"/>
<path d="M1391.9,471.7L1401.5,487.1L1382.3,487.1Z" fill="#f00" stroke="#f00" stroke-width="1" stroke-linejoin="round"/>
<path d="M1408.0,460.1L1417.6,475.5L1398.4,475.5Z" fill="#f00" stroke="#f00" stroke-width="1" stroke-linejoin="round"/>
<path d="M1424.1,446.8L1433.7,462.2L1414.5,462.2Z" fill="#f00" stroke="#f00" stroke-width="1" stroke-linejoin="round"/>
<path d="M1440.2,436.0L1449.8,451.4L1430.6,451.4Z" fill="#f00" stroke="#f00" stroke-width="1" stroke-linejoin="round"/>
<path d="M1456.3,423.7L1465.9,439.1L1446.7,439.1Z" fill="#f00" stroke="#f00" stroke-width="1" stroke-linejoin="round"/>
<path d="M1472.4,411.1L1482.0,426.5L1462.8,426.5Z" fill="#f00" stroke="#f00" stroke-width="1" stroke-linejoin="round"/>
<path d="M1488.5,397.8L1498.1,413.2L1478.9,413.2Z" fill="#f00" stroke="#f00" stroke-width="1" stroke-linejoin="round"/>
<path d="M1504.6,384.3L1514.2,399.7L1495.0,399.7Z" fill="#f00" stroke="#f00" stroke-width="1" stroke-linejoin="round"/>
<path d="M1520.7,370.9L1530.3,386.3L1511.1,386.3Z" fill="#f00" stroke="#f00" stroke-width="1" stroke-linejoin="round"/>
<path d="M1536.8,358.5L1546.4,373.9L1527.2,373.9Z" fill="#f00" stroke="#f00" stroke-width="1" stroke-linejoin="round"/>
<path d="M1552.9,346.2L1562.5,361.6L1543.3,361.6Z" fill="#f00" stroke="#f00" stroke-width="1" stroke-linejoin="round"/>
<path d="M1569.0,332.5L1578.6,347.9L1559.4,347.9Z" fill="#f00" stroke="#f00" stroke-width="1" stroke-linejoin="round"/>
<path d="M1585.1,321.1L1594.7,336.5L1575.5,336.5Z" fill="#f00" stroke="#f00" stroke-width="1" stroke-linejoin="round"/>
<path d="M1601.2,309.5L1610.8,324.9L1591.6,324.9Z" fill="#f00" stroke="#f00" stroke-width="1" stroke-linejoin="round"/>
<path d="M1617.3,298.5L1626.9,313.9L1607.7,313.9Z" fill="#f00" stroke="#f00" stroke-width="1" stroke-linejoin="round"/>
<path d="M1633.4,286.3L1643.0,301.7L1623.8,301.7Z" fill="#f00" stroke="#f00" stroke-width="1" stroke-linejoin="round"/>
<path d="M1649.5,275.5L1659.1,290.9L1639.9,290.9Z" fill="#f00" stroke="#f00" stroke-width="1" stroke-linejoin="round"/>
<path d="M1665.6,261.8L1675.2,277.2L1656.0,277.2Z" fill="#f00" stroke="#f00" stroke-width="1" stroke-linejoin="round"/>
<path d="M1681.7,250.5L1691.3,265.9L1672.1,265.9Z" fill="#f00" stroke="#f00" stroke-width="1" stroke-linejoin="round"/>
<path d="M1697.8,237.3L1707.4,252.7L1688.2,252.7Z" fill="#f00" stroke="#f00" stroke-width="1" stroke-linejoin="round"/>
<path d="M1713.9,225.4L1723.5,240.8L1704.3,240.8Z" fill="#f00" stroke="#f00" stroke-width="1" stroke-linejoin="round"/>
<path d="M1730.0,210.1L1739.6,225.5L1720.4,225.5Z" fill="#f00" stroke="#f00" stroke-width="1" stroke-linejoin="round"/>
<path d="M1746.1,192.2L1755.7,207.6L1736.5,207.6Z" fill="#f00" stroke="#f00" stroke-width="1" stroke-linejoin="round"/>
<path d="M1762.2,177.2L1771.8,192.6L1752.6,192.6Z" fill="#f00" stroke="#f00" stroke-width="1" stroke-linejoin="round"/>
<path d="M1778.3,157.4L1787.9,172.8L1768.7,172.8Z" fill="#f00" stroke="#f00" stroke-width="1" stroke-linejoin="round"/>
<line x1="1378.4" y1="143.9" x2="1472.2" y2="143.9" stroke="#f0f" stroke-width="3.3"/>
<ellipse cx="1424.7" cy="143.9" rx="14.7" ry="18.1" fill="#f0f"/>
<text transform="translate(1274.66,155.90) scale(0.9500,1)" font-size="41" font-family="Liberation Serif, serif" font-style="italic" fill="#000" stroke="#000" stroke-width="0.55">E</text>
<text transform="translate(1297.90,166.70) scale(0.9500,1)" font-size="27.5" font-family="DejaVu Serif, serif" fill="#000" stroke="#000" stroke-width="0.9">MCA</text>
<text transform="translate(1299.40,136.30)" font-size="26.2" font-family="DejaVu Math TeX Gyre, serif" fill="#000" stroke="#000" stroke-width="0.3">↑↑</text>
<line x1="1378.4" y1="203.7" x2="1472.2" y2="203.7" stroke="#0f0" stroke-width="3.3"/>
<path d="M1410.0,203.7L1424.7,185.7L1439.4,203.7L1424.7,221.7Z" fill="#0f0" stroke="#0f0" stroke-width="0" stroke-linejoin="round"/>
<text transform="translate(1274.66,211.30) scale(0.9500,1)" font-size="41" font-family="Liberation Serif, serif" font-style="italic" fill="#000" stroke="#000" stroke-width="0.55">E</text>
<text transform="translate(1297.90,222.10) scale(0.9500,1)" font-size="27.5" font-family="DejaVu Serif, serif" fill="#000" stroke="#000" stroke-width="0.9">MCA</text>
<text transform="translate(1299.40,191.70)" font-size="26.2" font-family="DejaVu Math TeX Gyre, serif" fill="#000" stroke="#000" stroke-width="0.3">↓↑</text>
<line x1="1378.4" y1="261.2" x2="1472.2" y2="261.2" stroke="#00f" stroke-width="3.3"/>
<rect x="1410.2" y="242.9" width="29.8" height="36.6" fill="#00f"/>
<text transform="translate(1274.66,269.00) scale(0.9500,1)" font-size="41" font-family="Liberation Serif, serif" font-style="italic" fill="#000" stroke="#000" stroke-width="0.55">E</text>
<text transform="translate(1297.90,279.80) scale(0.9500,1)" font-size="27.5" font-family="DejaVu Serif, serif" fill="#000" stroke="#000" stroke-width="0.9">MCA</text>
<text transform="translate(1299.40,249.40)" font-size="26.2" font-family="DejaVu Math TeX Gyre, serif" fill="#000" stroke="#000" stroke-width="0.3">↑↓</text>
<line x1="1378.4" y1="320.0" x2="1472.2" y2="320.0" stroke="#f00" stroke-width="3.3"/>
<path d="M1424.9,296.9L1443.8,333.1L1406.0,333.1Z" fill="#f00" stroke="#f00" stroke-width="1" stroke-linejoin="round"/>
<text transform="translate(1274.66,323.20) scale(0.9500,1)" font-size="41" font-family="Liberation Serif, serif" font-style="italic" fill="#000" stroke="#000" stroke-width="0.55">E</text>
<text transform="translate(1297.90,334.00) scale(0.9500,1)" font-size="27.5" font-family="DejaVu Serif, serif" fill="#000" stroke="#000" stroke-width="0.9">MCA</text>
<text transform="translate(1299.40,303.60)" font-size="26.2" font-family="DejaVu Math TeX Gyre, serif" fill="#000" stroke="#000" stroke-width="0.3">↓↓</text>
<rect x="1187.1" y="107.1" width="639.7" height="529.5" fill="none" stroke="#000" stroke-width="3.6"/>
<text transform="translate(1162.48,89.90) scale(0.9600,1)" font-size="32" font-family="Liberation Serif, serif" fill="#000" stroke="#000" stroke-width="0.55">3.35</text>
<line x1="1278.5" y1="107.1" x2="1278.5" y2="113.1" stroke="#000" stroke-width="2"/>
<text transform="translate(1256.77,89.90) scale(0.9600,1)" font-size="32" font-family="Liberation Serif, serif" fill="#000" stroke="#000" stroke-width="0.55">3.40</text>
<line x1="1369.9" y1="107.1" x2="1369.9" y2="113.1" stroke="#000" stroke-width="2"/>
<text transform="translate(1342.38,89.90) scale(0.9600,1)" font-size="32" font-family="Liberation Serif, serif" fill="#000" stroke="#000" stroke-width="0.55">3.45</text>
<line x1="1461.3" y1="107.1" x2="1461.3" y2="113.1" stroke="#000" stroke-width="2"/>
<text transform="translate(1436.57,89.90) scale(0.9600,1)" font-size="32" font-family="Liberation Serif, serif" fill="#000" stroke="#000" stroke-width="0.55">3.50</text>
<line x1="1552.6" y1="107.1" x2="1552.6" y2="113.1" stroke="#000" stroke-width="2"/>
<text transform="translate(1522.58,89.90) scale(0.9600,1)" font-size="32" font-family="Liberation Serif, serif" fill="#000" stroke="#000" stroke-width="0.55">3.55</text>
<line x1="1644.0" y1="107.1" x2="1644.0" y2="113.1" stroke="#000" stroke-width="2"/>
<text transform="translate(1616.27,89.90) scale(0.9600,1)" font-size="32" font-family="Liberation Serif, serif" fill="#000" stroke="#000" stroke-width="0.55">3.60</text>
<line x1="1735.4" y1="107.1" x2="1735.4" y2="113.1" stroke="#000" stroke-width="2"/>
<text transform="translate(1701.98,89.90) scale(0.9600,1)" font-size="32" font-family="Liberation Serif, serif" fill="#000" stroke="#000" stroke-width="0.55">3.65</text>
<text transform="translate(1796.27,89.90) scale(0.9600,1)" font-size="32" font-family="Liberation Serif, serif" fill="#000" stroke="#000" stroke-width="0.55">3.70</text>
<text transform="translate(1111.06,122.60) scale(0.9600,1)" font-size="35.5" font-family="Liberation Serif, serif" fill="#000" stroke="#000" stroke-width="0.55">0.20</text>
<line x1="1187.1" y1="182.7" x2="1193.1" y2="182.7" stroke="#000" stroke-width="2"/>
<line x1="1820.8" y1="182.7" x2="1826.8" y2="182.7" stroke="#000" stroke-width="2"/>
<text transform="translate(1111.09,198.24) scale(0.9600,1)" font-size="35.5" font-family="Liberation Serif, serif" fill="#000" stroke="#000" stroke-width="0.55">0.15</text>
<line x1="1187.1" y1="258.4" x2="1193.1" y2="258.4" stroke="#000" stroke-width="2"/>
<line x1="1820.8" y1="258.4" x2="1826.8" y2="258.4" stroke="#000" stroke-width="2"/>
<text transform="translate(1111.06,273.89) scale(0.9600,1)" font-size="35.5" font-family="Liberation Serif, serif" fill="#000" stroke="#000" stroke-width="0.55">0.10</text>
<line x1="1187.1" y1="334.0" x2="1193.1" y2="334.0" stroke="#000" stroke-width="2"/>
<line x1="1820.8" y1="334.0" x2="1826.8" y2="334.0" stroke="#000" stroke-width="2"/>
<text transform="translate(1111.09,349.53) scale(0.9600,1)" font-size="35.5" font-family="Liberation Serif, serif" fill="#000" stroke="#000" stroke-width="0.55">0.05</text>
<line x1="1187.1" y1="409.7" x2="1193.1" y2="409.7" stroke="#000" stroke-width="2"/>
<line x1="1820.8" y1="409.7" x2="1826.8" y2="409.7" stroke="#000" stroke-width="2"/>
<text transform="translate(1111.06,425.17) scale(0.9600,1)" font-size="35.5" font-family="Liberation Serif, serif" fill="#000" stroke="#000" stroke-width="0.55">0.00</text>
<line x1="1187.1" y1="485.3" x2="1193.1" y2="485.3" stroke="#000" stroke-width="2"/>
<line x1="1820.8" y1="485.3" x2="1826.8" y2="485.3" stroke="#000" stroke-width="2"/>
<text transform="translate(1099.74,500.81) scale(0.9600,1)" font-size="35.5" font-family="Liberation Serif, serif" fill="#000" stroke="#000" stroke-width="0.55">-0.05</text>
<line x1="1187.1" y1="561.0" x2="1193.1" y2="561.0" stroke="#000" stroke-width="2"/>
<line x1="1820.8" y1="561.0" x2="1826.8" y2="561.0" stroke="#000" stroke-width="2"/>
<text transform="translate(1099.71,576.46) scale(0.9600,1)" font-size="35.5" font-family="Liberation Serif, serif" fill="#000" stroke="#000" stroke-width="0.55">-0.10</text>
<text transform="translate(1099.74,652.10) scale(0.9600,1)" font-size="35.5" font-family="Liberation Serif, serif" fill="#000" stroke="#000" stroke-width="0.55">-0.15</text>
<line x1="1232.4" y1="631.6" x2="1232.4" y2="636.6" stroke="#777" stroke-width="1"/>
<text transform="translate(1217.55,678.40) scale(0.9600,1)" font-size="34" font-family="Liberation Serif, serif" fill="#000" stroke="#000" stroke-width="0.55">-4</text>
<line x1="1296.6" y1="631.6" x2="1296.6" y2="636.6" stroke="#777" stroke-width="1"/>
<text transform="translate(1281.94,678.40) scale(0.9600,1)" font-size="34" font-family="Liberation Serif, serif" fill="#000" stroke="#000" stroke-width="0.55">-3</text>
<line x1="1360.8" y1="631.6" x2="1360.8" y2="636.6" stroke="#777" stroke-width="1"/>
<text transform="translate(1346.20,678.40) scale(0.9600,1)" font-size="34" font-family="Liberation Serif, serif" fill="#000" stroke="#000" stroke-width="0.55">-2</text>
<line x1="1425.0" y1="631.6" x2="1425.0" y2="636.6" stroke="#777" stroke-width="1"/>
<text transform="translate(1409.78,678.40) scale(0.9600,1)" font-size="34" font-family="Liberation Serif, serif" fill="#000" stroke="#000" stroke-width="0.55">-1</text>
<line x1="1489.2" y1="631.6" x2="1489.2" y2="636.6" stroke="#777" stroke-width="1"/>
<text transform="translate(1482.34,678.40) scale(0.9600,1)" font-size="34" font-family="Liberation Serif, serif" fill="#000" stroke="#000" stroke-width="0.55">0</text>
<line x1="1553.4" y1="631.6" x2="1553.4" y2="636.6" stroke="#777" stroke-width="1"/>
<text transform="translate(1545.39,678.40) scale(0.9600,1)" font-size="34" font-family="Liberation Serif, serif" fill="#000" stroke="#000" stroke-width="0.55">1</text>
<line x1="1617.6" y1="631.6" x2="1617.6" y2="636.6" stroke="#777" stroke-width="1"/>
<text transform="translate(1610.02,678.40) scale(0.9600,1)" font-size="34" font-family="Liberation Serif, serif" fill="#000" stroke="#000" stroke-width="0.55">2</text>
<line x1="1681.8" y1="631.6" x2="1681.8" y2="636.6" stroke="#777" stroke-width="1"/>
<text transform="translate(1673.30,678.40) scale(0.9600,1)" font-size="34" font-family="Liberation Serif, serif" fill="#000" stroke="#000" stroke-width="0.55">3</text>
<line x1="1746.0" y1="631.6" x2="1746.0" y2="636.6" stroke="#777" stroke-width="1"/>
<text transform="translate(1736.58,678.40) scale(0.9600,1)" font-size="34" font-family="Liberation Serif, serif" fill="#000" stroke="#000" stroke-width="0.55">4</text>
<line x1="1810.2" y1="631.6" x2="1810.2" y2="636.6" stroke="#777" stroke-width="1"/>
<text transform="translate(1799.93,678.40) scale(0.9600,1)" font-size="34" font-family="Liberation Serif, serif" fill="#000" stroke="#000" stroke-width="0.55">5</text>
<text transform="translate(1242.42,43.00)" font-size="38.3" font-family="Liberation Serif, serif" fill="#000" stroke="#000" stroke-width="0.55">In-plane lattice constant</text>
<text transform="translate(1619.27,43.00)" font-size="38" font-family="Liberation Serif, serif" font-style="italic" fill="#000" stroke="#000" stroke-width="0.55">a</text>
<text transform="translate(1638.47,48.40) scale(1.3000,1)" font-size="20.5" font-family="DejaVu Math TeX Gyre, serif" fill="#000" stroke="#000" stroke-width="0.3">∥</text>
<text transform="translate(1659.17,43.00)" font-size="38.1" font-family="Liberation Serif, serif" fill="#000" stroke="#000" stroke-width="0.55">[angstrom]</text>
<text transform="translate(1210.89,732.60)" font-size="42" font-family="Liberation Serif, serif" fill="#000" stroke="#000" stroke-width="0.55">Distortion ratio (</text>
<text transform="translate(1492.95,732.60)" font-size="42" font-family="Liberation Serif, serif" font-style="italic" fill="#000" stroke="#000" stroke-width="0.55">a</text>
<text transform="translate(1514.37,739.00) scale(1.1500,1)" font-size="23.1" font-family="DejaVu Math TeX Gyre, serif" fill="#000" stroke="#000" stroke-width="0.3">∥</text>
<text transform="translate(1525.44,732.60)" font-size="42" font-family="Liberation Serif, serif" fill="#000" stroke="#000" stroke-width="0.55">-</text>
<text transform="translate(1538.65,732.60)" font-size="42" font-family="Liberation Serif, serif" font-style="italic" fill="#000" stroke="#000" stroke-width="0.55">a</text>
<text transform="translate(1559.48,742.10)" font-size="29.5" font-family="Liberation Serif, serif" fill="#000" stroke="#000" stroke-width="0.55">0</text>
<text transform="translate(1573.95,732.60)" font-size="42" font-family="Liberation Serif, serif" fill="#000" stroke="#000" stroke-width="0.55">)/</text>
<text transform="translate(1599.25,732.60)" font-size="42" font-family="Liberation Serif, serif" font-style="italic" fill="#000" stroke="#000" stroke-width="0.55">a</text>
<text transform="translate(1620.08,742.10)" font-size="29.5" font-family="Liberation Serif, serif" fill="#000" stroke="#000" stroke-width="0.55">0</text>
<text transform="translate(1641.82,733.00)" font-size="49" font-family="Liberation Serif, serif" fill="#000" stroke="#000" stroke-width="0.55">×</text>
<text transform="translate(1677.91,732.60)" font-size="42" font-family="Liberation Serif, serif" fill="#000" stroke="#000" stroke-width="0.55">100</text>
<text transform="translate(1750.92,732.60)" font-size="41.5" font-family="Liberation Serif, serif" fill="#000" stroke="#000" stroke-width="0.55">[%]</text>
<text transform="translate(1009.56,40.20)" font-size="51" font-family="Liberation Serif, serif" fill="#000" stroke="#000" stroke-width="0.55">(</text>
<text transform="translate(1028.10,41.80)" font-size="54.5" font-family="Liberation Serif, serif" fill="#000" stroke="#000" stroke-width="0.55">b</text>
<text transform="translate(1055.36,40.20)" font-size="51" font-family="Liberation Serif, serif" fill="#000" stroke="#000" stroke-width="0.55">)</text>
<text transform="translate(1068.00,539.68) rotate(-90) scale(0.9900,1)" font-size="41.3" font-family="Liberation Serif, serif" fill="#000" stroke="#000" stroke-width="0.55">MCA energy [meV/atom]</text>
</svg>
</body></html>
